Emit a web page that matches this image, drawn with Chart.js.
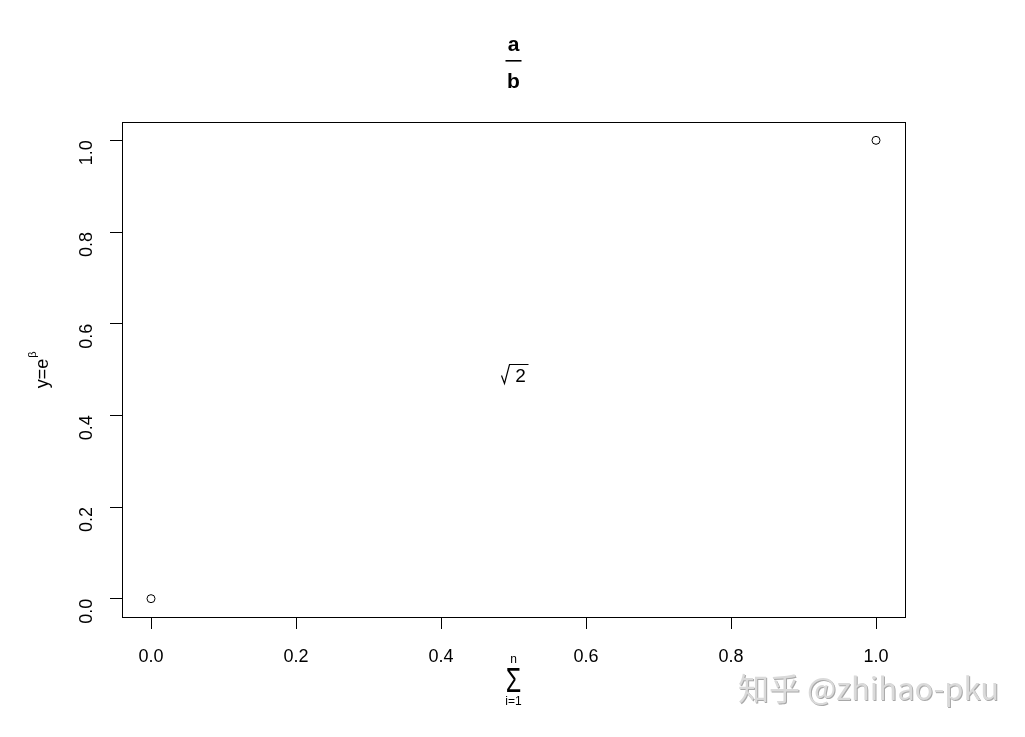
<!DOCTYPE html>
<html>
<head>
<meta charset="utf-8">
<script src="https://cdn.jsdelivr.net/npm/chart.js@4"></script>
<style>
  html, body { margin: 0; padding: 0; background: #fff; }
  #wrap { width: 1025px; height: 737px; }
</style>
</head>
<body>
<div id="wrap"><canvas id="plot"></canvas></div>
<script>
// data
const xValues = [0, 1];
const yValues = [0, 1];
const tickValues = [0, 0.2, 0.4, 0.6, 0.8, 1.0];
const noteX = 0.5;
const noteY = 0.5;

const FONT = "Liberation Sans, Arial, sans-serif";

// extra drawing: box, titles, plotmath-ish labels
const decor = {
  id: "decor",
  afterDraw(chart) {
    const ctx = chart.ctx;
    const a = chart.chartArea;
    const xs = chart.scales.x, ys = chart.scales.y;
    ctx.save();
    ctx.strokeStyle = "#000";
    ctx.lineWidth = 1;
    ctx.strokeRect(a.left + 0.5, a.top + 0.5, a.right - a.left, a.bottom - a.top);

    ctx.fillStyle = "#000";
    ctx.textAlign = "center";
    ctx.textBaseline = "middle";

    // title a/b
    const cx = (a.left + a.right) / 2;
    ctx.font = "bold 21px " + FONT;
    ctx.fillText("a", cx, 45);
    ctx.fillText("b", cx, 82);
    ctx.fillRect(cx - 8, 60, 16, 1.6);

    // sqrt(2) at data position
    const px = xs.getPixelForValue(noteX), py = ys.getPixelForValue(noteY) + 6;
    ctx.font = "19px " + FONT;
    ctx.fillText("2", px + 7, py + 1);
    ctx.beginPath();
    ctx.lineWidth = 1.2;
    ctx.moveTo(px - 12, py);
    ctx.lineTo(px - 9, py + 8);
    ctx.lineTo(px - 4, py - 11);
    ctx.lineTo(px + 15, py - 11);
    ctx.stroke();

    // x label: sum with limits
    ctx.font = "12px " + FONT;
    ctx.fillText("n", cx, 660);
    ctx.fillText("i=1", cx, 702);
    ctx.save();
    ctx.translate(cx, 692);
    ctx.scale(1, 1.4);
    ctx.textBaseline = "alphabetic";
    ctx.font = "25px " + FONT;
    ctx.fillText("\u03a3", 0, 0);
    ctx.restore();

    // y label y=e^beta
    ctx.translate(39, 370);
    ctx.rotate(-Math.PI / 2);
    ctx.textAlign = "left";
    ctx.font = "18px " + FONT;
    const w = ctx.measureText("y=e").width;
    ctx.fillText("y=e", -(w + 7) / 2, 4);
    ctx.font = "11px " + FONT;
    ctx.fillText("\u03b2", -(w + 7) / 2 + w + 1, -6);
    ctx.restore();

    // watermark
    ctx.save();
    ctx.font = "31px Noto Sans CJK SC";
    ctx.textAlign = "left";
    ctx.textBaseline = "middle";
    ctx.fillStyle = "#a8a8a8";
    ctx.fillText("\u77e5\u4e4e @zhihao-pku", 739, 689);
    ctx.fillStyle = "#dadada";
    ctx.fillText("\u77e5\u4e4e @zhihao-pku", 738, 688);
    ctx.restore();
  }
};

const tickSet = (scale) => { scale.ticks = tickValues.map(v => ({ value: v })); };

new Chart("plot", {
  type: "scatter",
  data: {
    datasets: [{
      data: xValues.map((x, i) => ({ x: x, y: yValues[i] })),
      pointStyle: "circle",
      pointRadius: 4,
      pointHoverRadius: 4,
      pointBorderWidth: 1,
      borderColor: "#000",
      backgroundColor: "rgba(0,0,0,0)",
      showLine: false
    }]
  },
  options: {
    responsive: true,
    maintainAspectRatio: false,
    animation: false,
    events: [],
    layout: { padding: { top: 122, right: 120, left: 0, bottom: 0 } },
    plugins: { legend: { display: false }, tooltip: { enabled: false }, title: { display: false } },
    scales: {
      x: {
        type: "linear",
        min: -0.04, max: 1.04,
        afterBuildTicks: tickSet,
        afterFit: (s) => { s.height = 120; },
        grid: { drawOnChartArea: false, drawTicks: true, tickLength: 12, color: "#000" },
        border: { display: false },
        ticks: {
          color: "#000",
          font: { family: FONT, size: 18 },
          padding: 17,
          maxRotation: 0,
          callback: (v) => v.toFixed(1)
        }
      },
      y: {
        type: "linear",
        min: -0.04, max: 1.04,
        afterBuildTicks: tickSet,
        afterFit: (s) => { s.width = 122; },
        grid: { drawOnChartArea: false, drawTicks: true, tickLength: 12, color: "#000" },
        border: { display: false },
        ticks: {
          color: "#000",
          font: { family: FONT, size: 18 },
          padding: 23,
          minRotation: 90,
          maxRotation: 90,
          callback: (v) => v.toFixed(1)
        }
      }
    }
  },
  plugins: [decor]
});
</script>
</body>
</html>
